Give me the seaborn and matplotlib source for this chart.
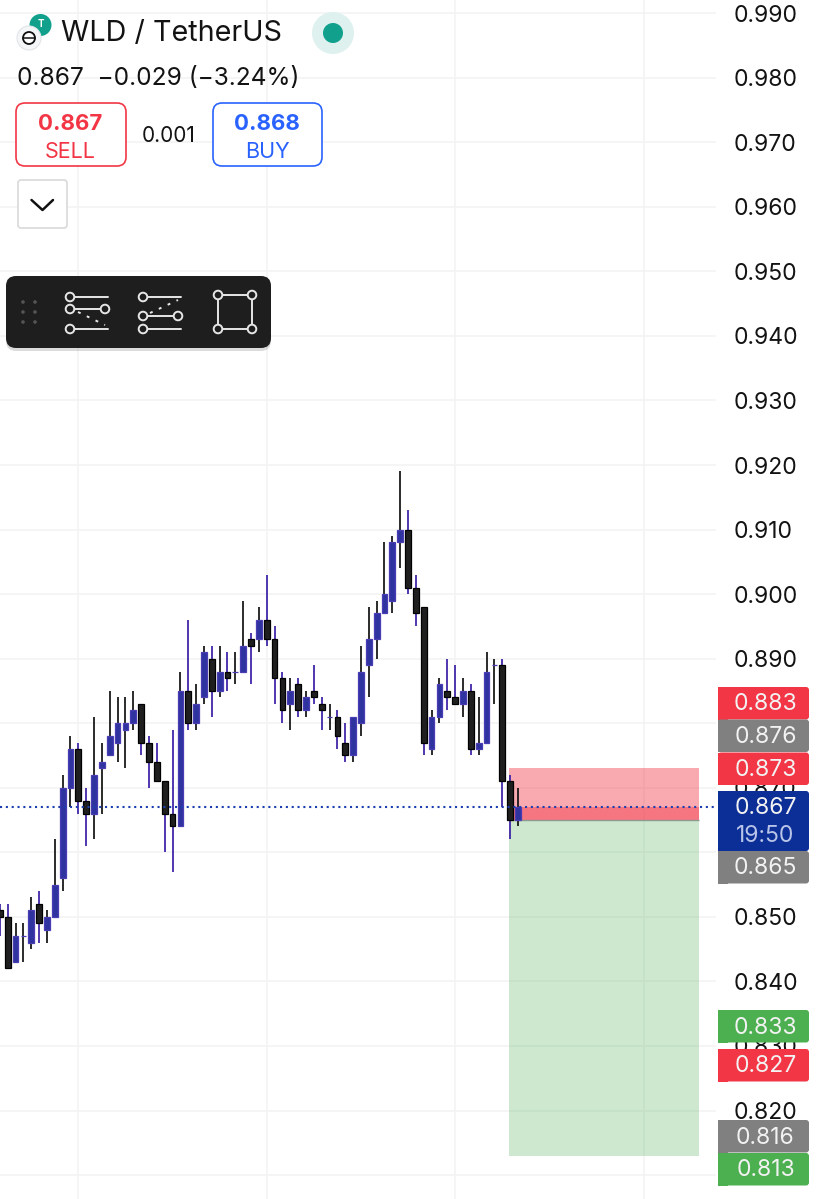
import numpy as np
import pandas as pd
import matplotlib
matplotlib.use("Agg")
import matplotlib.pyplot as plt
from matplotlib.patches import Circle, FancyBboxPatch, Rectangle
import seaborn as sns

sns.set_theme(style="white")
plt.rcParams['font.family'] = ['Inter', 'DejaVu Sans']

# candles (tick size 0.001)
opens = [.851, .850, .843, .847, .846, .852, .848, .850, .856, .870, .876, .868, .866, .873, .875, .877, .879,
         .880, .883, .877, .874, .871, .866, .864, .885, .880, .884, .890, .885, .888, .888, .888, .893, .893,
         .896, .893, .887, .883, .886, .882, .885, .883, .881, .881, .877, .875, .880, .889, .893, .897, .899,
         .908, .910, .901, .898, .876, .881, .885, .884, .883, .885, .876, .877, .889, .889, .871, .865]
closes = [.850, .842, .847, .847, .851, .849, .850, .855, .870, .876, .868, .866, .872, .874, .878, .880, .880,
          .882, .877, .874, .871, .866, .864, .885, .880, .883, .891, .885, .888, .887, .888, .892, .892, .896,
          .893, .887, .882, .885, .882, .884, .884, .882, .881, .878, .875, .881, .888, .893, .897, .900, .908,
          .910, .901, .897, .877, .881, .886, .884, .883, .885, .876, .877, .888, .889, .871, .865, .867]
highs = [.852, .852, .849, .849, .853, .854, .851, .862, .872, .878, .877, .870, .881, .877, .885, .884, .884,
         .885, .883, .878, .877, .871, .879, .888, .896, .886, .892, .892, .892, .891, .891, .899, .894, .898,
         .903, .895, .888, .887, .887, .885, .889, .884, .883, .882, .880, .881, .892, .898, .899, .908, .909,
         .919, .913, .903, .898, .882, .887, .890, .889, .887, .886, .884, .891, .890, .890, .872, .870]
lows = [.847, .842, .843, .843, .845, .846, .846, .850, .854, .867, .866, .861, .862, .866, .875, .874, .873,
        .879, .875, .870, .871, .860, .857, .864, .879, .879, .883, .881, .884, .885, .886, .888, .886, .891,
        .892, .883, .880, .879, .881, .881, .883, .879, .879, .876, .874, .874, .878, .884, .890, .897, .897,
        .904, .900, .895, .875, .875, .880, .882, .883, .881, .875, .875, .877, .883, .867, .862, .864]

price_ticks = [.99, .98, .97, .96, .95, .94, .93, .92, .91, .90, .89, .88, .87, .86, .85, .84, .83, .82, .81]
# these three sit fully behind a price tag in the app
hidden_ticks = [.88, .86, .81]
time_grid = [10, 34, 58, 82]

current_price = .867
risk_top = .873
entry_price = .865
target_price = .813
box_start = 64.85
box_end = 89.06

tag_values = ["0.883", "0.876", "0.873", "0.865", "0.833", "0.827", "0.816", "0.813"]
tag_colors = ["#f23645", "#808080", "#f23645", "#808080", "#4caf50", "#f23645", "#808080", "#4caf50"]
tag_tops = [687, 719.5, 752.5, 851, 1010, 1049, 1120, 1153]

BLUE = "#2f33a0"
BLACK = "#1f1f1f"

df = pd.DataFrame({"open": opens, "close": closes, "high": highs, "low": lows})
df["idx"] = np.arange(len(df))
df["up"] = df["close"] >= df["open"]
df["bottom"] = df[["open", "close"]].min(axis=1)
df["body"] = (df["open"] - df["close"]).abs()

fig = plt.figure(figsize=(8.28, 11.99), dpi=100, facecolor="white")
ax = fig.add_axes([0, 0, 1, 1])

# grid only runs up to the price scale
ax.hlines(price_ticks, -1, 91.2, color="#f5f5f5", lw=1.4, zorder=1)
ax.vlines(time_grid, .80, 1.0, color="#f3f3f3", lw=1.2, zorder=1)

# position box
ax.add_patch(Rectangle((box_start, entry_price), box_end - box_start, risk_top - entry_price,
                       fc="#f23645", alpha=.42, ec="none", zorder=2))
ax.add_patch(Rectangle((box_start, entry_price), box_end - box_start, current_price - entry_price,
                       fc="#f23645", alpha=.45, ec="none", zorder=2))
ax.add_patch(Rectangle((box_start, target_price), box_end - box_start, entry_price - target_price,
                       fc="#4caf50", alpha=.28, ec="none", zorder=2))
ax.hlines(entry_price, box_start, box_end, color="#8f9a8f", lw=1.0, zorder=2)

# wicks
wicks = df.melt(id_vars=["idx", "up"], value_vars=["high", "low"], value_name="price")
sns.lineplot(data=wicks, x="idx", y="price", units="idx", estimator=None, hue="up",
             palette={True: "#111111", False: "#3a1fa5"}, lw=1.25, legend=False, ax=ax,
             solid_capstyle="butt", zorder=3)

# bodies
for is_up, color, edge in [(True, BLUE, "#4a3cb5"), (False, BLACK, "#000000")]:
    part = df[df["up"] == is_up].sort_values("idx")
    sns.barplot(data=part, x="idx", y="body", bottom=part["bottom"].values, native_scale=True, color=color,
                saturation=1, width=.73, errorbar=None, edgecolor=edge, linewidth=.9, ax=ax, zorder=4)

ax.axhline(current_price, xmin=0, xmax=716 / 828, color="#1b3fae", lw=1.5, ls=(0, (1.0, 1.8)), zorder=5)

ax.set_xlim(.15 / 7.85, 828.15 / 7.85)
ax.set_ylim(.92 - 734 / 6455, .92 + 465 / 6455)
ax.set_xticks([])
ax.set_yticks(price_ticks)
ax.set_yticklabels(["" if p in hidden_ticks else f"{p:.3f}" for p in price_ticks], fontsize=16.5, color="#131313")
ax.yaxis.tick_right()
ax.tick_params(axis="y", length=0, pad=-68)
ax.set_xlabel("")
ax.set_ylabel("")
sns.despine(ax=ax, left=True, bottom=True, right=True, top=True)

# everything below is the app's overlay, in pixel coordinates
ui = fig.add_axes([0, 0, 1, 1], facecolor="none")
ui.set_xlim(0, 828)
ui.set_ylim(1199, 0)
ui.axis("off")


def rbox(x0, y0, x1, y1, r, **kw):
    ui.add_patch(FancyBboxPatch((x0 + r, y0 + r), x1 - x0 - 2 * r, y1 - y0 - 2 * r,
                                boxstyle=f"round,pad={r},rounding_size={r}", **kw))


def price_tag(top, bottom, color):
    rbox(718, top, 809, bottom, 3, fc=color, ec="none")
    ui.add_patch(Rectangle((718, top), 10, bottom - top, fc=color, ec="none"))


for val, col, top in zip(tag_values, tag_colors, tag_tops):
    price_tag(top, top + 32.5, col)
    ui.text(765.5, top + 17.5, val, color="#f2f2f2", fontsize=16.5, ha="center", va="center")

price_tag(791, 851, "#0b2f96")
ui.text(765.5, 808, f"{current_price:.3f}", color="#f2f2f2", fontsize=16.5, ha="center", va="center")
ui.text(765.5, 836, "19:50", color="#b9c4e8", fontsize=16.5, ha="center", va="center")

# header
ui.add_patch(Circle((40.5, 25), 11, fc="#11a08c", ec="none"))
ui.text(41, 24, "T", color="white", fontsize=7, fontweight="bold", ha="center", va="center")
ui.add_patch(Circle((29, 38), 12, fc="#f4f6f8", ec="#e2e5e8", lw=.8))
ui.add_patch(Circle((29, 38), 6, fc="white", ec="#111111", lw=1.3))
ui.plot([23, 35], [38, 38], color="#111111", lw=1.1)
ui.text(61, 34, "WLD / TetherUS", fontsize=20.7, color="#131313", va="center", ha="left")
ui.add_patch(Circle((333, 33), 21, fc="#def1ef", ec="none"))
ui.add_patch(Circle((333, 33), 10, fc="#11a08c", ec="none"))
ui.text(17, 78, "0.867  \u22120.029 (\u22123.24%)", fontsize=17.6, color="#131313", va="center", ha="left")

rbox(16, 103, 126, 166, 9, fc="white", ec="#f23645", lw=1.2)
ui.text(70.5, 124, "0.867", color="#f23645", fontsize=16, fontweight="bold", ha="center", va="center")
ui.text(70.5, 152, "SELL", color="#f23645", fontsize=15.5, ha="center", va="center")
ui.text(169, 136, "0.001", color="#131313", fontsize=15, ha="center", va="center")
rbox(213, 103, 322, 166, 9, fc="white", ec="#2962ff", lw=1.2)
ui.text(267, 124, "0.868", color="#2962ff", fontsize=16, fontweight="bold", ha="center", va="center")
ui.text(267, 152, "BUY", color="#2962ff", fontsize=15.5, ha="center", va="center")

rbox(18, 180, 67, 228, 3, fc="white", ec="#dcdcdc", lw=1.3)
ui.plot([31.5, 42.5, 53], [200, 210, 200], color="#111111", lw=1.8)

# drawing toolbar
rbox(6, 278, 271, 351, 10, fc="#888888", ec="none", alpha=.3)
rbox(6, 276, 271, 348, 10, fc="#1e1e1e", ec="none")
for dx in (23, 35):
    for dy in (302, 312, 322):
        ui.add_patch(Circle((dx, dy), 1.8, fc="#555555", ec="none"))

LINE = "#e6e6e6"
ui_lines = [((70, 108), (297, 297)), ((70, 105), (309, 309)), ((70, 108), (329, 329)),
            ((143, 181), (297, 297)), ((143, 178), (316, 316)), ((143, 181), (329, 329)),
            ((218, 252), (295, 295)), ((218, 252), (329, 329)), ((218, 218), (295, 329)), ((252, 252), (295, 329))]
for xs, ys in ui_lines:
    ui.plot(xs, ys, color=LINE, lw=1.4)
ui.plot([78, 105], [312, 325], color=LINE, lw=1.4, ls=(0, (1.5, 3.5)))
ui.plot([150, 178], [313, 300], color=LINE, lw=1.4, ls=(0, (1.5, 3.5)))
ui_nodes = [(70, 297), (70, 309), (105, 309), (70, 329), (143, 297), (143, 316), (178, 316), (143, 329),
            (218, 295), (252, 295), (218, 329), (252, 329)]
for nx, ny in ui_nodes:
    ui.add_patch(Circle((nx, ny), 4.3, fc="#1e1e1e", ec=LINE, lw=1.4, zorder=5))

fig.savefig("out.png", dpi=100)
